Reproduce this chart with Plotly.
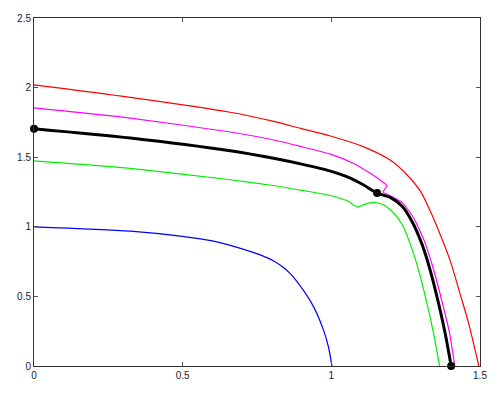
import plotly.graph_objects as go

# Curves
red_x = [0.0, 0.324, 0.66, 0.81, 0.9, 0.997, 1.109, 1.198, 1.255, 1.30, 1.333, 1.366, 1.40, 1.433, 1.462, 1.496]
red_y = [2.02, 1.930, 1.823, 1.755, 1.705, 1.652, 1.574, 1.479, 1.372, 1.254, 1.111, 0.945, 0.755, 0.518, 0.304, 0.0]

mag_x = [0.0, 0.324, 0.66, 0.81, 0.9, 0.997, 1.075, 1.131, 1.171, 1.187, 1.174, 1.196, 1.24, 1.277, 1.313, 1.345, 1.377, 1.398, 1.415]
mag_y = [1.854, 1.781, 1.681, 1.622, 1.576, 1.522, 1.455, 1.384, 1.325, 1.296, 1.249, 1.225, 1.170, 1.063, 0.897, 0.684, 0.423, 0.233, 0.0]

blk_x = [0.0, 0.324, 0.66, 0.81, 0.9, 0.997, 1.064, 1.109, 1.154, 1.198, 1.238, 1.271, 1.305, 1.333, 1.361, 1.383, 1.403]
blk_y = [1.705, 1.638, 1.546, 1.49, 1.45, 1.40, 1.35, 1.30, 1.242, 1.211, 1.147, 1.04, 0.874, 0.684, 0.447, 0.233, 0.0]
dot_x = [0.0, 1.154, 1.403]
dot_y = [1.705, 1.242, 0.0]

grn_x = [0.0, 0.324, 0.66, 0.81, 0.9, 0.997, 1.053, 1.089, 1.109, 1.142, 1.176, 1.21, 1.238, 1.266, 1.294, 1.322, 1.344, 1.364]
grn_y = [1.474, 1.42, 1.338, 1.295, 1.262, 1.225, 1.187, 1.142, 1.159, 1.175, 1.159, 1.099, 1.016, 0.874, 0.684, 0.447, 0.233, 0.0]

blu_x = [0.0, 0.324, 0.492, 0.604, 0.716, 0.761, 0.806, 0.84, 0.862, 0.907, 0.941, 0.974, 0.99, 1.002]
blu_y = [1.0, 0.969, 0.933, 0.897, 0.831, 0.798, 0.755, 0.706, 0.664, 0.541, 0.423, 0.256, 0.14, 0.0]

x_ticks = [0, 0.5, 1, 1.5]
x_labels = ["0", "0.5", "1", "1.5"]
y_ticks = [0, 0.5, 1, 1.5, 2, 2.5]
y_labels = ["0", "0.5", "1", "1.5", "2", "2.5"]

def line(color, width, sm):
    return dict(color=color, width=width, shape="spline", smoothing=sm)

fig = go.Figure()
fig.add_trace(go.Scatter(x=red_x, y=red_y, mode="lines", line=line("#ff0000", 1.2, 0.8)))
fig.add_trace(go.Scatter(x=mag_x, y=mag_y, mode="lines", line=line("#ff00ff", 1.2, 0.5)))
fig.add_trace(go.Scatter(x=grn_x, y=grn_y, mode="lines", line=line("#00ee00", 1.2, 0.5)))
fig.add_trace(go.Scatter(x=blu_x, y=blu_y, mode="lines", line=line("#0000ff", 1.2, 0.8)))
fig.add_trace(go.Scatter(x=blk_x, y=blk_y, mode="lines", line=line("#000000", 3, 0.7)))
fig.add_trace(go.Scatter(x=dot_x, y=dot_y, mode="markers", marker=dict(color="#000000", size=8), cliponaxis=False))

axis_common = dict(
    showgrid=False, zeroline=False, showline=True, linecolor="#333333", linewidth=1,
    mirror="ticks", ticks="inside", ticklen=4, tickcolor="#555555",
    tickfont=dict(family="Liberation Sans, Arial, sans-serif", size=10, color="#222222"),
)
fig.update_xaxes(range=[0, 1.5], tickvals=x_ticks, ticktext=x_labels, **axis_common)
fig.update_yaxes(range=[0, 2.5], tickvals=y_ticks, ticktext=y_labels, **axis_common)

fig.update_layout(
    width=504, height=393, showlegend=False,
    margin=dict(l=34, r=24, t=15, b=27),
    plot_bgcolor="white", paper_bgcolor="white",
)
fig.write_html("out.html")
